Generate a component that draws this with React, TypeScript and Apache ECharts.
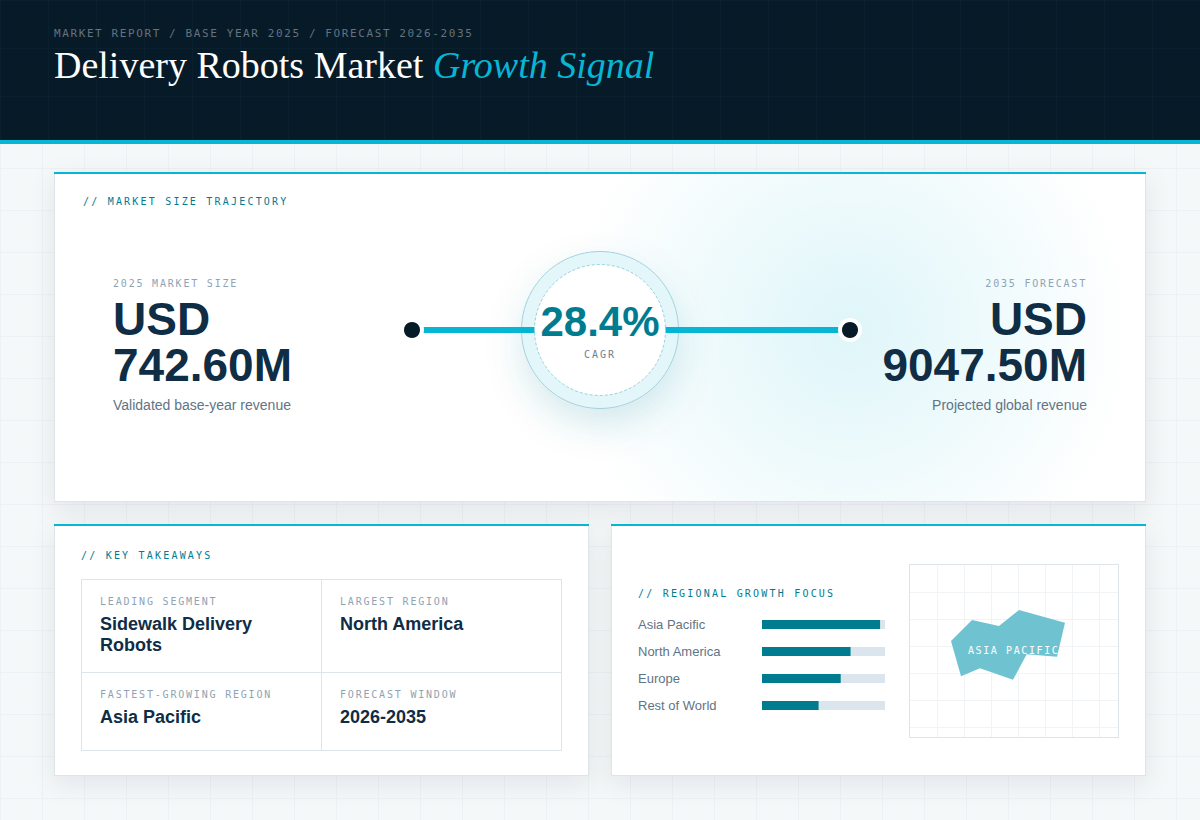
import { useEffect, useRef, type ReactElement } from "react";
import * as echarts from "echarts";

const regions = ["Asia Pacific", "North America", "Europe", "Rest of World"];
const regionGrowth = [96, 72, 64, 46];
const trajectoryYears = ["2025", "2035"];
const trajectoryLevel = [0, 0];
// map outline, in pixels of the small map box
const mapShapeX = [62, 89, 109, 155, 147, 116.7, 103, 70, 51, 41];
const mapShapeY = [55, 61, 45, 57.7, 91.7, 89.3, 114.7, 103.3, 111.3, 76];

const MONO = "'DejaVu Sans Mono', monospace";
const SANS = "'Liberation Sans', Arial, sans-serif";
const SERIF = "'Liberation Serif', serif";

const CYAN = "#06b6d4";
const TEAL = "#007c91";
const NAVY = "#0f2d45";
const SLATE = "#5f7485";
const MUTED = "#8fa3b3";
const BORDER = "#dde5ea";

// zrender has no letter spacing, so it goes on the svg texts after paint
const tracking: Record<string, number> = {
  "MARKET REPORT / BASE YEAR 2025 / FORECAST 2026-2035": 1.6,
  "// MARKET SIZE TRAJECTORY": 2.2,
  "// KEY TAKEAWAYS": 2.2,
  "// REGIONAL GROWTH FOCUS": 2.2,
  "2025 MARKET SIZE": 1.8,
  "2035 FORECAST": 1.8,
  "LEADING SEGMENT": 1.8,
  "LARGEST REGION": 1.8,
  "FASTEST-GROWING REGION": 1.8,
  "FORECAST WINDOW": 1.8,
  CAGR: 2,
  "ASIA PACIFIC": 1.6,
};

function box(x: number, y: number, width: number, height: number, fill: any, z = 1, extra = {}) {
  return { type: "rect", z, silent: true, shape: { x, y, width, height }, style: { fill, ...extra } };
}

function label(
  text: string,
  x: number,
  y: number,
  font: string,
  fill: string,
  textAlign = "left",
  lineHeight?: number,
) {
  return {
    type: "text",
    z: 7,
    silent: true,
    x,
    y,
    style: { text, font, fill, textAlign, textVerticalAlign: "middle", lineHeight },
  };
}

function card(x: number, y: number, width: number, height: number, fill: any = "#ffffff") {
  return [
    box(x, y, width, height, BORDER, 1, {
      shadowBlur: 26,
      shadowOffsetY: 8,
      shadowColor: "rgba(13,42,64,0.08)",
    }),
    box(x + 1, y + 2, width - 2, height - 3, fill, 1),
    box(x, y, width, 2, CYAN, 1),
  ];
}

function backdrop() {
  const items: any[] = [box(0, 0, 1200, 820, "#f5f8f9", 0)];
  for (let x = 0; x < 1200; x += 42) items.push(box(x, 144, 1, 676, "#edf1f3", 0));
  for (let y = 168; y < 820; y += 42) items.push(box(0, y, 1200, 1, "#edf1f3", 0));
  items.push(box(0, 0, 1200, 140, "#071a28", 0));
  for (let x = 0; x < 1200; x += 48) items.push(box(x, 0, 1, 140, "#0a202f", 0));
  for (let y = 0; y < 140; y += 48) items.push(box(0, y, 1200, 1, "#0a202f", 0));
  items.push(box(0, 140, 1200, 4, CYAN, 0));
  return items;
}

function buildOption() {
  const glow = {
    type: "radial",
    x: 850,
    y: 330,
    r: 285,
    global: true,
    colorStops: [
      { offset: 0, color: "rgba(6,182,212,0.13)" },
      { offset: 1, color: "rgba(6,182,212,0)" },
    ],
  };

  const graphics: any[] = [
    ...backdrop(),
    ...card(54, 172, 1092, 330),
    box(55, 174, 1090, 327, glow, 1),
    ...card(54, 524, 535, 252),
    ...card(611, 524, 535, 252),

    label("MARKET REPORT / BASE YEAR 2025 / FORECAST 2026-2035", 54, 33, `11px ${MONO}`, "#64737d"),
    label("Delivery Robots Market", 54, 65, `38px ${SERIF}`, "#ffffff"),
    label("Growth Signal", 433, 65, `italic 38px ${SERIF}`, CYAN),

    label("// MARKET SIZE TRAJECTORY", 83, 201, `10px ${MONO}`, TEAL),
    label("2025 MARKET SIZE", 113, 283, `10px ${MONO}`, MUTED),
    label("USD\n742.60M", 113, 342, `bold 46px ${SANS}`, NAVY, "left", 46),
    label("Validated base-year revenue", 113, 405, `14px ${SANS}`, SLATE),
    label("2035 FORECAST", 1087, 283, `10px ${MONO}`, MUTED, "right"),
    label("USD\n9047.50M", 1087, 342, `bold 46px ${SANS}`, NAVY, "right", 46),
    label("Projected global revenue", 1087, 405, `14px ${SANS}`, SLATE, "right"),

    {
      type: "circle",
      z: 2,
      silent: true,
      shape: { cx: 600, cy: 330, r: 78.5 },
      style: {
        fill: "#e9f9fc",
        stroke: "#a3d2dd",
        lineWidth: 1,
        shadowBlur: 36,
        shadowOffsetY: 16,
        shadowColor: "rgba(0,124,145,0.16)",
      },
    },
    {
      type: "ring",
      z: 6,
      silent: true,
      shape: { cx: 600, cy: 330, r: 78, r0: 65 },
      style: { fill: "rgba(0,124,145,0.025)" },
    },
    {
      type: "circle",
      z: 6,
      silent: true,
      shape: { cx: 600, cy: 330, r: 65.5 },
      style: { fill: "#ffffff", stroke: "#93d3df", lineWidth: 1, lineDash: [3, 2] },
    },
    label("28.4%", 600, 321, `bold 42px ${SANS}`, TEAL, "center"),
    label("CAGR", 600, 354, `10px ${MONO}`, "#6b7f8e", "center"),

    label("// KEY TAKEAWAYS", 81, 555, `10px ${MONO}`, TEAL),
    box(81, 579, 481, 172, BORDER, 1),
    box(82, 580, 479, 170, "#ffffff", 1),
    box(321, 580, 1, 170, BORDER, 1),
    box(82, 672, 479, 1, BORDER, 1),
    label("LEADING SEGMENT", 100, 601, `10px ${MONO}`, MUTED),
    label("Sidewalk Delivery\nRobots", 100, 634.5, `bold 18px ${SANS}`, NAVY, "left", 21),
    label("LARGEST REGION", 340, 601, `10px ${MONO}`, MUTED),
    label("North America", 340, 624, `bold 18px ${SANS}`, NAVY),
    label("FASTEST-GROWING REGION", 100, 694, `10px ${MONO}`, MUTED),
    label("Asia Pacific", 100, 717, `bold 18px ${SANS}`, NAVY),
    label("FORECAST WINDOW", 340, 694, `10px ${MONO}`, MUTED),
    label("2026-2035", 340, 717, `bold 18px ${SANS}`, NAVY),

    label("// REGIONAL GROWTH FOCUS", 638, 593, `10px ${MONO}`, TEAL),
    box(909, 564, 210, 174, BORDER, 1),
    box(910, 565, 208, 172, "#ffffff", 1),
    label("ASIA PACIFIC", 968, 650, `10px ${MONO}`, "#ffffff"),
  ];

  const hiddenValue = { type: "value", show: false };

  return {
    animation: false,
    tooltip: { show: false },
    graphic: { elements: graphics },
    grid: [
      { left: 412, top: 300, width: 438, height: 60 },
      { left: 762, top: 611, width: 123, height: 108 },
      { left: 910, top: 565, width: 208, height: 172 },
    ],
    xAxis: [
      { gridIndex: 0, type: "category", data: trajectoryYears, boundaryGap: false, show: false },
      { gridIndex: 1, ...hiddenValue, min: 0, max: 100 },
      {
        gridIndex: 2,
        type: "value",
        min: 0,
        max: 208,
        interval: 27,
        z: 3,
        axisLine: { show: false },
        axisTick: { show: false },
        axisLabel: { show: false },
        splitLine: {
          show: true,
          showMinLine: false,
          showMaxLine: false,
          lineStyle: { color: "#f1f4f6", width: 1 },
        },
      },
    ],
    yAxis: [
      { gridIndex: 0, ...hiddenValue, min: -1, max: 1 },
      {
        gridIndex: 1,
        type: "category",
        data: regions,
        inverse: true,
        z: 3,
        axisLine: { show: false },
        axisTick: { show: false },
        axisLabel: {
          color: SLATE,
          fontSize: 13,
          fontFamily: SANS,
          align: "left",
          margin: 124,
        },
      },
      {
        gridIndex: 2,
        type: "value",
        min: 0,
        max: 172,
        interval: 27,
        inverse: true,
        z: 3,
        axisLine: { show: false },
        axisTick: { show: false },
        axisLabel: { show: false },
        splitLine: {
          show: true,
          showMinLine: false,
          showMaxLine: false,
          lineStyle: { color: "#f1f4f6", width: 1 },
        },
      },
    ],
    series: [
      {
        type: "line",
        xAxisIndex: 0,
        yAxisIndex: 0,
        z: 5,
        data: trajectoryLevel,
        silent: true,
        symbol: "circle",
        symbolSize: 20,
        lineStyle: { color: CYAN, width: 6 },
        itemStyle: { color: "#071a28", borderColor: "#ffffff", borderWidth: 4 },
      },
      {
        type: "bar",
        xAxisIndex: 1,
        yAxisIndex: 1,
        z: 5,
        data: regionGrowth,
        barWidth: 9,
        silent: true,
        showBackground: true,
        backgroundStyle: { color: "#dbe5ed" },
        itemStyle: { color: TEAL },
      },
      {
        type: "custom",
        xAxisIndex: 2,
        yAxisIndex: 2,
        z: 4,
        silent: true,
        data: [[0, 0]],
        renderItem: (_params: any, api: any) => ({
          type: "polygon",
          shape: { points: mapShapeX.map((x, i) => api.coord([x, mapShapeY[i]])) },
          style: { fill: "#6fc3d1" },
        }),
      },
    ],
  };
}

export default function App(): ReactElement {
  const rootRef = useRef<HTMLDivElement>(null);

  useEffect(() => {
    if (!rootRef.current) return;
    const chart = echarts.init(rootRef.current, undefined, {
      renderer: "svg",
      width: 1200,
      height: 820,
    });
    chart.setOption(buildOption());

    rootRef.current.querySelectorAll("text").forEach((node) => {
      const spacing = tracking[node.textContent ?? ""];
      if (spacing) node.style.letterSpacing = `${spacing}px`;
    });

    return () => {
      chart.dispose();
    };
  }, []);

  return (
    <div
      ref={rootRef}
      style={{ position: "absolute", left: 0, top: 0, width: 1200, height: 820 }}
    />
  );
}
